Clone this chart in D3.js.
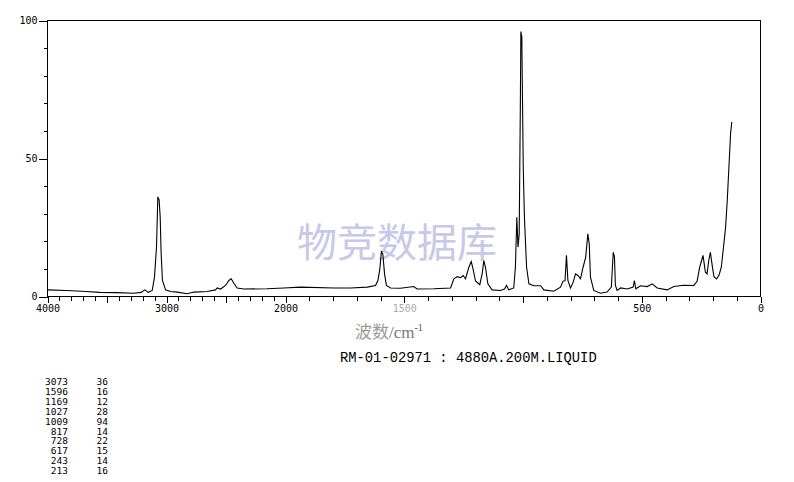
<!DOCTYPE html>
<html>
<head>
<meta charset="utf-8">
<script src="https://cdn.jsdelivr.net/npm/d3@7/dist/d3.min.js"></script>
<style>
  html, body { margin: 0; padding: 0; background: #fff; }
  svg { display: block; }
</style>
</head>
<body>
<svg id="chart" width="794" height="482"></svg>
<script>
// ---- Data ----
const wavenumbers = [4000, 3841, 3673, 3561, 3421, 3275, 3213, 3182, 3154, 3120, 3101, 3084, 3073, 3062, 3053, 3045, 3034, 3008, 2966, 2910, 2826, 2770, 2658, 2588, 2574, 2546, 2504, 2476, 2456, 2434, 2406, 2350, 2154, 2014, 1937, 1796, 1726, 1656, 1621, 1611, 1603, 1596, 1590, 1583, 1575, 1558, 1516, 1460, 1446, 1375, 1305, 1291, 1277, 1263, 1252, 1242, 1228, 1218, 1210, 1200, 1182, 1172, 1165, 1158, 1148, 1130, 1095, 1078, 1069, 1060, 1039, 1032, 1026, 1021, 1016, 1011, 1009, 1005, 999, 994, 985, 975, 954, 926, 912, 871, 842, 832, 823, 817, 811, 800, 789, 779, 769, 758, 747, 736, 727, 721, 716, 702, 674, 646, 628, 620, 615, 611, 604, 589, 561, 536, 531, 525, 505, 477, 456, 435, 393, 365, 323, 281, 267, 256, 242, 232, 225, 218, 211, 203, 196, 185, 175, 165, 157, 147, 140, 133, 126, 121];
const intensities = [2.4, 2.2, 1.8, 1.5, 1.4, 1.2, 1.5, 2.4, 1.5, 2.2, 7.0, 17.9, 36.1, 35.0, 28.7, 15.5, 5.8, 2.4, 1.8, 1.6, 1.0, 1.6, 1.8, 2.4, 3.1, 2.7, 4.0, 5.8, 6.4, 4.8, 3.1, 2.7, 2.8, 3.1, 3.4, 3.1, 3.1, 3.4, 4.0, 5.8, 9.8, 16.5, 15.2, 8.2, 4.0, 3.1, 3.0, 3.6, 2.7, 2.8, 3.1, 6.4, 7.2, 6.8, 7.6, 6.4, 10.6, 12.7, 9.8, 5.6, 4.3, 8.2, 13.0, 10.6, 4.6, 2.4, 2.2, 2.7, 4.0, 2.4, 3.1, 10.6, 28.7, 17.9, 22.7, 71.0, 96.0, 94.0, 46.8, 28.7, 10.6, 4.6, 3.9, 3.9, 2.4, 1.9, 3.4, 5.5, 5.8, 14.9, 5.8, 3.1, 5.1, 8.2, 7.6, 6.4, 10.6, 14.3, 22.7, 19.0, 7.0, 2.2, 1.2, 1.6, 3.4, 16.0, 14.5, 4.1, 2.2, 3.1, 2.7, 3.4, 5.8, 2.8, 3.9, 3.6, 4.6, 3.1, 2.4, 3.6, 4.1, 4.0, 5.5, 10.6, 14.9, 8.8, 8.2, 13.0, 16.0, 11.0, 7.2, 6.4, 7.6, 10.6, 16.9, 25.0, 34.8, 46.8, 59.0, 63.2];

const xTickValues = d3.range(0, 4001, 100);
const xTickLabels = [4000, 3000, 2000, 1500, 500, 0];
const yTickValues = d3.range(0, 101, 10);
const yTickLabels = [0, 50, 100];

const peakWavenumbers = [3073, 1596, 1169, 1027, 1009, 817, 728, 617, 243, 213];
const peakIntensities = [36, 16, 12, 28, 94, 14, 22, 15, 14, 16];

const titleText = "RM-01-02971 : 4880A.200M.LIQUID";
const watermarkText = "物竞数据库";

// ---- Layout ----
const svg = d3.select("#chart");
const pLeft = 47.5, pRight = 760.5, pTop = 20.5, pBottom = 296.5;

// The instrument uses a compressed scale above 2000 cm-1
const x = d3.scaleLinear().domain([4000, 2000, 0]).range([pLeft, 285.5, pRight]);
const y = d3.scaleLinear().domain([0, 100]).range([pBottom, pTop]);

// Watermark
svg.append("text")
  .attr("x", 397).attr("y", 240)
  .attr("text-anchor", "middle")
  .attr("dominant-baseline", "central")
  .attr("font-family", "'Noto Sans CJK SC', sans-serif")
  .attr("font-size", 40)
  .attr("fill", "#c8c8ea")
  .text(watermarkText);

// Frame
svg.append("rect")
  .attr("x", pLeft).attr("y", pTop)
  .attr("width", pRight - pLeft).attr("height", pBottom - pTop)
  .attr("fill", "none").attr("stroke", "#000").attr("stroke-width", 1)
  .attr("shape-rendering", "crispEdges");

// X axis
const xAxis = d3.axisBottom(x)
  .tickValues(xTickValues)
  .tickSizeOuter(0)
  .tickSize(4)
  .tickFormat(d => xTickLabels.includes(d) ? d : "");
const gx = svg.append("g").attr("transform", `translate(0,${pBottom})`).call(xAxis);
gx.select(".domain").remove();
gx.selectAll(".tick line")
  .attr("y2", d => (d % 500 === 0) ? 6 : 4)
  .attr("stroke", "#000")
  .attr("shape-rendering", "crispEdges");
gx.selectAll(".tick text")
  .attr("y", 8)
  .attr("font-family", "'DejaVu Sans Mono', monospace")
  .attr("font-size", 10)
  .attr("fill", d => d === 1500 ? "#aaaaaa" : "#000");

// Y axis
const yAxis = d3.axisLeft(y)
  .tickValues(yTickValues)
  .tickSizeOuter(0)
  .tickSize(4)
  .tickFormat(d => yTickLabels.includes(d) ? d : "");
const gy = svg.append("g").attr("transform", `translate(${pLeft},0)`).call(yAxis);
gy.select(".domain").remove();
gy.selectAll(".tick line")
  .attr("x2", d => yTickLabels.includes(d) ? -9 : -4)
  .attr("stroke", "#000")
  .attr("shape-rendering", "crispEdges");
gy.selectAll(".tick text")
  .attr("x", -10)
  .attr("font-family", "'DejaVu Sans Mono', monospace")
  .attr("font-size", 10)
  .attr("fill", "#000");

// Spectrum
const pts = wavenumbers.map((w, i) => [w, intensities[i]]);
const line = d3.line().x(d => x(d[0])).y(d => y(d[1]));
svg.append("path")
  .datum(pts)
  .attr("d", line)
  .attr("fill", "none")
  .attr("stroke", "#000")
  .attr("stroke-width", 1.1);

// Axis title
const at = svg.append("text")
  .attr("x", 355).attr("y", 338)
  .attr("font-size", 17);
at.append("tspan").attr("font-family", "'Noto Sans CJK SC', serif").attr("fill", "#9a9a9a").text("波数");
at.append("tspan").attr("font-family", "'Liberation Serif', 'DejaVu Serif', serif").attr("fill", "#777").text("/cm");
at.append("tspan").attr("font-family", "'Liberation Serif', serif").attr("fill", "#555").attr("font-size", 10).attr("dy", -7).text("-1");

// Title
svg.append("text")
  .attr("x", 340).attr("y", 362)
  .attr("font-family", "'Liberation Mono', 'DejaVu Sans Mono', monospace")
  .attr("font-size", 13.8)
  .attr("fill", "#000")
  .text(titleText);

// Peak table
const rows = svg.append("g").selectAll("g").data(peakWavenumbers).join("g");
rows.append("text")
  .attr("x", 68).attr("y", (d, i) => 385 + i * 9.9)
  .attr("text-anchor", "end")
  .attr("font-family", "'DejaVu Sans Mono', monospace")
  .attr("font-size", 9.5)
  .text(d => d);
rows.append("text")
  .attr("x", 108).attr("y", (d, i) => 385 + i * 9.9)
  .attr("text-anchor", "end")
  .attr("font-family", "'DejaVu Sans Mono', monospace")
  .attr("font-size", 9.5)
  .text((d, i) => peakIntensities[i]);
</script>
</body>
</html>
